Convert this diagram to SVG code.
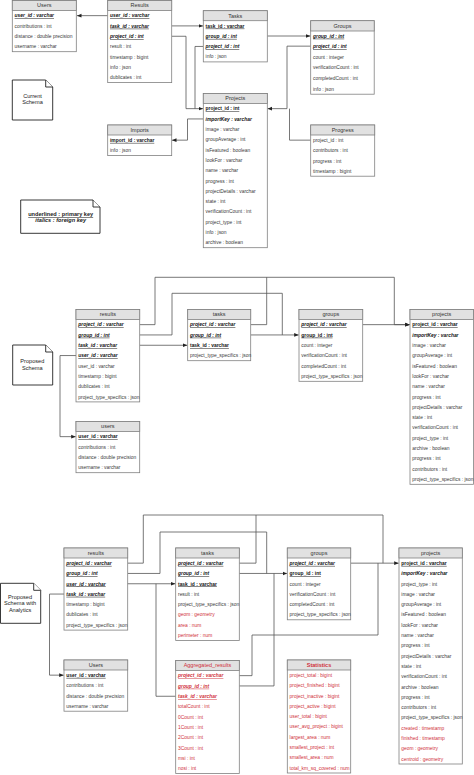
<svg xmlns="http://www.w3.org/2000/svg" width="474" height="775" viewBox="0 0 474 775">
<style>
.bd{fill:#fff;stroke:#808080;stroke-width:0.8}
.hd{fill:#e1e1e1;stroke:#808080;stroke-width:0.8}
text{font-family:"Liberation Sans",Arial,Helvetica,sans-serif}
.ht{font-size:5.5px;fill:#333;text-anchor:middle}
.r{font-size:4.9px;fill:#3a3a3a}
.k{font-weight:bold;text-decoration:underline;fill:#111}
.f{font-weight:bold;font-style:italic;fill:#111}
.fk{font-weight:bold;font-style:italic;text-decoration:underline;fill:#111}
.red{fill:#d0303a}
.cn{fill:none;stroke:#555;stroke-width:0.8}
.note{fill:#fff;stroke:#222;stroke-width:0.9}
.nt{font-size:5.6px;fill:#222;text-anchor:middle}
</style>
<defs>
<marker id="ar" markerUnits="userSpaceOnUse" markerWidth="5" markerHeight="5" refX="4.5" refY="2.5" orient="auto">
<path d="M0,0.6 L4.5,2.5 L0,4.4 Z" fill="#222"/>
</marker>
</defs>

<g id="connectors">
<path class="cn" d="M107.7 15.65 H77" marker-end="url(#ar)"/>
<path class="cn" d="M171.7 25.9 H203" marker-end="url(#ar)"/>
<path class="cn" d="M171.7 36.25 H186 V108.65 H203" marker-end="url(#ar)"/>
<path class="cn" d="M203.3 46.45 H195 V108.65"/>
<path class="cn" d="M267.3 36 H310.4" marker-end="url(#ar)"/>
<path class="cn" d="M310.7 46.15 H287 V108.65 H267.6" marker-end="url(#ar)"/>
<path class="cn" d="M310.7 140.15 H289.5 V108.65"/>
<path class="cn" d="M203.3 118.95 H187.5 V140.15 H172" marker-end="url(#ar)"/>

<path class="cn" d="M139.7 324.65 H155 V277.3 H394.3 V324.65 H409.7" marker-end="url(#ar)"/>
<path class="cn" d="M139.7 334.95 H172 V293.3 H282.3 V334.95"/>
<path class="cn" d="M139.7 345.25 H187.4" marker-end="url(#ar)"/>
<path class="cn" d="M76 355.55 H60 V436.65 H75.7" marker-end="url(#ar)"/>
<path class="cn" d="M250.7 324.65 H266.7 V277.3"/>
<path class="cn" d="M250.7 334.95 H298.7" marker-end="url(#ar)"/>
<path class="cn" d="M362.7 324.65 H409.7" marker-end="url(#ar)"/>

<path class="cn" d="M127.7 563.15 H143.3 V515 H383 V563.15"/>
<path class="cn" d="M127.7 573.45 H160 V532 H266.7 V573.45"/>
<path class="cn" d="M97 583.75 H175.4" marker-end="url(#ar)"/>
<path class="cn" d="M97 583.75 V594.05 H49.5 V675.15 H63.7" marker-end="url(#ar)"/>
<path class="cn" d="M175.7 696.25 H156 V583.75"/>
<path class="cn" d="M239.3 563.15 H256 V515"/>
<path class="cn" d="M239.3 573.45 H287" marker-end="url(#ar)"/>
<path class="cn" d="M350.7 563.15 H398.7" marker-end="url(#ar)"/>
<path class="cn" d="M239.3 675.65 H252 V635 H378 V563.15"/>
<path class="cn" d="M239.3 685.95 H274 V573.45"/>
</g>

<!-- Current schema -->
<g id="cur-users" transform="translate(12.3,0.5)">
<rect class="bd" width="64" height="51.2"/><rect class="hd" width="64" height="10"/>
<text class="ht" x="32" y="6.9">Users</text>
<text class="r fk" x="2.3" y="16.9">user_id : varchar</text>
<text class="r" x="2.3" y="27.2">contributions : int</text>
<text class="r" x="2.3" y="37.5">distance : double precision</text>
<text class="r" x="2.3" y="47.8">username : varchar</text>
</g>
<g id="cur-results" transform="translate(107.7,0.5)">
<rect class="bd" width="64" height="82.1"/><rect class="hd" width="64" height="10"/>
<text class="ht" x="32" y="6.9">Results</text>
<text class="r fk" x="2.3" y="16.9">user_id : varchar</text>
<text class="r fk" x="2.3" y="27.2">task_id : varchar</text>
<text class="r fk" x="2.3" y="37.5">project_id : int</text>
<text class="r" x="2.3" y="47.8">result : int</text>
<text class="r" x="2.3" y="58.1">timestamp : bigint</text>
<text class="r" x="2.3" y="68.4">info : json</text>
<text class="r" x="2.3" y="78.7">dublicates : int</text>
</g>
<g id="cur-tasks" transform="translate(203.3,10.7)">
<rect class="bd" width="64" height="51.2"/><rect class="hd" width="64" height="10"/>
<text class="ht" x="32" y="6.9">Tasks</text>
<text class="r k" x="2.3" y="16.9">task_id : varchar</text>
<text class="r fk" x="2.3" y="27.2">group_id : int</text>
<text class="r fk" x="2.3" y="37.5">project_id : int</text>
<text class="r" x="2.3" y="47.8">info : json</text>
</g>
<g id="cur-groups" transform="translate(310.7,20.7)">
<rect class="bd" width="63.5" height="73.5"/><rect class="hd" width="63.5" height="10.3"/>
<text class="ht" x="31.75" y="7.1">Groups</text>
<text class="r fk" x="2.3" y="17">group_id : int</text>
<text class="r fk" x="2.3" y="27.6">project_id : int</text>
<text class="r" x="2.3" y="38.2">count : integer</text>
<text class="r" x="2.3" y="48.8">verificationCount : int</text>
<text class="r" x="2.3" y="59.4">completedCount : int</text>
<text class="r" x="2.3" y="70">info : json</text>
</g>
<g id="cur-projects" transform="translate(203.3,93.5)">
<rect class="bd" width="64" height="154.2"/><rect class="hd" width="64" height="10"/>
<text class="ht" x="32" y="6.9">Projects</text>
<text class="r k" x="2.3" y="16.9">project_id : int</text>
<text class="r f" x="2.3" y="27.2">importKey : varchar</text>
<text class="r" x="2.3" y="37.5">image : varchar</text>
<text class="r" x="2.3" y="47.8">groupAverage : int</text>
<text class="r" x="2.3" y="58.1">isFeatured : boolean</text>
<text class="r" x="2.3" y="68.4">lookFor : varchar</text>
<text class="r" x="2.3" y="78.7">name : varchar</text>
<text class="r" x="2.3" y="89">progress : int</text>
<text class="r" x="2.3" y="99.3">projectDetails : varchar</text>
<text class="r" x="2.3" y="109.6">state : int</text>
<text class="r" x="2.3" y="119.9">verificationCount : int</text>
<text class="r" x="2.3" y="130.2">project_type : int</text>
<text class="r" x="2.3" y="140.5">info : json</text>
<text class="r" x="2.3" y="150.8">archive : boolean</text>
</g>
<g id="cur-imports" transform="translate(107.7,125)">
<rect class="bd" width="64" height="30.6"/><rect class="hd" width="64" height="10"/>
<text class="ht" x="32" y="6.9">Imports</text>
<text class="r k" x="2.3" y="16.9">import_id : varchar</text>
<text class="r" x="2.3" y="27.2">info : json</text>
</g>
<g id="cur-progress" transform="translate(310.7,125)">
<rect class="bd" width="64" height="51.2"/><rect class="hd" width="64" height="10"/>
<text class="ht" x="32" y="6.9">Progress</text>
<text class="r" x="2.3" y="16.9">project_id : int</text>
<text class="r" x="2.3" y="27.2">contributors : int</text>
<text class="r" x="2.3" y="37.5">progress : int</text>
<text class="r" x="2.3" y="47.8">timestamp : bigint</text>
</g>
<g id="note-current" transform="translate(12.3,80)">
<path class="note" d="M0,0 H33.4 L40.4,7 V40 H0 Z"/><path class="note" d="M33.4,0 V7 H40.4"/>
<text class="nt" x="20.2" y="17.7">Current</text>
<text class="nt" x="20.2" y="24.3">Schema</text>
</g>
<g id="note-legend" transform="translate(20.7,200)">
<path class="note" d="M0,0 H72.3 L79.3,7 V33.3 H0 Z"/><path class="note" d="M72.3,0 V7 H79.3"/>
<text class="nt" x="40" y="16" font-weight="bold" text-decoration="underline">underlined : primary key</text>
<text class="nt" x="40" y="22" font-weight="bold" font-style="italic">italics : foreign key</text>
</g>

<!-- Proposed schema -->
<g id="prop-results" transform="translate(76,309.5)">
<rect class="bd" width="63.7" height="92.4"/><rect class="hd" width="63.7" height="10"/>
<text class="ht" x="31.85" y="6.9">results</text>
<text class="r fk" x="2.3" y="16.9">project_id : varchar</text>
<text class="r fk" x="2.3" y="27.2">group_id : int</text>
<text class="r fk" x="2.3" y="37.5">task_id : varchar</text>
<text class="r fk" x="2.3" y="47.8">user_id : varchar</text>
<text class="r" x="2.3" y="58.1">user_id : varchar</text>
<text class="r" x="2.3" y="68.4">timestamp : bigint</text>
<text class="r" x="2.3" y="78.7">dublicates : int</text>
<text class="r" x="2.3" y="89">project_type_specifics : json</text>
</g>
<g id="prop-tasks" transform="translate(187.7,309.5)">
<rect class="bd" width="63" height="51.2"/><rect class="hd" width="63" height="10"/>
<text class="ht" x="31.5" y="6.9">tasks</text>
<text class="r fk" x="2.3" y="16.9">project_id : varchar</text>
<text class="r fk" x="2.3" y="27.2">group_id : int</text>
<text class="r k" x="2.3" y="37.5">task_id : varchar</text>
<text class="r" x="2.3" y="47.8">project_type_specifics : json</text>
</g>
<g id="prop-groups" transform="translate(299,309.5)">
<rect class="bd" width="63.7" height="71.8"/><rect class="hd" width="63.7" height="10"/>
<text class="ht" x="31.85" y="6.9">groups</text>
<text class="r fk" x="2.3" y="16.9">project_id : varchar</text>
<text class="r k" x="2.3" y="27.2">group_id : int</text>
<text class="r" x="2.3" y="37.5">count : integer</text>
<text class="r" x="2.3" y="47.8">verificationCount : int</text>
<text class="r" x="2.3" y="58.1">completedCount : int</text>
<text class="r" x="2.3" y="68.4">project_type_specifics : json</text>
</g>
<g id="prop-projects" transform="translate(410,309.5)">
<rect class="bd" width="63.5" height="174.8"/><rect class="hd" width="63.5" height="10"/>
<text class="ht" x="31.75" y="6.9">projects</text>
<text class="r k" x="2.3" y="16.9">project_id : varchar</text>
<text class="r f" x="2.3" y="27.2">importKey : varchar</text>
<text class="r" x="2.3" y="37.5">image : varchar</text>
<text class="r" x="2.3" y="47.8">groupAverage : int</text>
<text class="r" x="2.3" y="58.1">isFeatured : boolean</text>
<text class="r" x="2.3" y="68.4">lookFor : varchar</text>
<text class="r" x="2.3" y="78.7">name : varchar</text>
<text class="r" x="2.3" y="89">progress : int</text>
<text class="r" x="2.3" y="99.3">projectDetails : varchar</text>
<text class="r" x="2.3" y="109.6">state : int</text>
<text class="r" x="2.3" y="119.9">verificationCount : int</text>
<text class="r" x="2.3" y="130.2">project_type : int</text>
<text class="r" x="2.3" y="140.5">archive : boolean</text>
<text class="r" x="2.3" y="150.8">progress : int</text>
<text class="r" x="2.3" y="161.1">contributors : int</text>
<text class="r" x="2.3" y="171.4">project_type_specifics : json</text>
</g>
<g id="prop-users" transform="translate(76,421.5)">
<rect class="bd" width="63.7" height="51.2"/><rect class="hd" width="63.7" height="10"/>
<text class="ht" x="31.85" y="6.9">users</text>
<text class="r k" x="2.3" y="16.9">user_id : varchar</text>
<text class="r" x="2.3" y="27.2">contributions : int</text>
<text class="r" x="2.3" y="37.5">distance : double precision</text>
<text class="r" x="2.3" y="47.8">username : varchar</text>
</g>
<g id="note-proposed" transform="translate(12.7,345)">
<path class="note" d="M0,0 H33 L40,7 V40 H0 Z"/><path class="note" d="M33,0 V7 H40"/>
<text class="nt" x="19.6" y="18">Proposed</text>
<text class="nt" x="19.6" y="25.3">Schema</text>
</g>

<!-- Proposed schema with analytics -->
<g id="ana-results" transform="translate(64,548)">
<rect class="bd" width="63.7" height="82.1"/><rect class="hd" width="63.7" height="10"/>
<text class="ht" x="31.85" y="6.9">results</text>
<text class="r fk" x="2.3" y="16.9">project_id : varchar</text>
<text class="r fk" x="2.3" y="27.2">group_id : int</text>
<text class="r fk" x="2.3" y="37.5">user_id : varchar</text>
<text class="r fk" x="2.3" y="47.8">task_id : varchar</text>
<text class="r" x="2.3" y="58.1">timestamp : bigint</text>
<text class="r" x="2.3" y="68.4">dublicates : int</text>
<text class="r" x="2.3" y="78.7">project_type_specifics : json</text>
</g>
<g id="ana-tasks" transform="translate(175.7,548)">
<rect class="bd" width="63.6" height="92.4"/><rect class="hd" width="63.6" height="10"/>
<text class="ht" x="31.8" y="6.9">tasks</text>
<text class="r fk" x="2.3" y="16.9">project_id : varchar</text>
<text class="r fk" x="2.3" y="27.2">group_id : int</text>
<text class="r k" x="2.3" y="37.5">task_id : varchar</text>
<text class="r" x="2.3" y="47.8">result : int</text>
<text class="r" x="2.3" y="58.1">project_type_specifics : json</text>
<text class="r red" x="2.3" y="68.4">geom : geometry</text>
<text class="r red" x="2.3" y="78.7">area : num</text>
<text class="r red" x="2.3" y="89">perimeter : num</text>
</g>
<g id="ana-groups" transform="translate(287.3,548)">
<rect class="bd" width="63.4" height="71.8"/><rect class="hd" width="63.4" height="10"/>
<text class="ht" x="31.7" y="6.9">groups</text>
<text class="r fk" x="2.3" y="16.9">project_id : varchar</text>
<text class="r k" x="2.3" y="27.2">group_id : int</text>
<text class="r" x="2.3" y="37.5">count : integer</text>
<text class="r" x="2.3" y="47.8">verificationCount : int</text>
<text class="r" x="2.3" y="58.1">completedCount : int</text>
<text class="r" x="2.3" y="68.4">project_type_specifics : json</text>
</g>
<g id="ana-projects" transform="translate(399,548)">
<rect class="bd" width="63.3" height="216"/><rect class="hd" width="63.3" height="10"/>
<text class="ht" x="31.65" y="6.9">projects</text>
<text class="r k" x="2.3" y="16.9">project_id : varchar</text>
<text class="r f" x="2.3" y="27.2">importKey : varchar</text>
<text class="r" x="2.3" y="37.5">project_type : int</text>
<text class="r" x="2.3" y="47.8">image : varchar</text>
<text class="r" x="2.3" y="58.1">groupAverage : int</text>
<text class="r" x="2.3" y="68.4">isFeatured : boolean</text>
<text class="r" x="2.3" y="78.7">lookFor : varchar</text>
<text class="r" x="2.3" y="89">name : varchar</text>
<text class="r" x="2.3" y="99.3">progress : int</text>
<text class="r" x="2.3" y="109.6">projectDetails : varchar</text>
<text class="r" x="2.3" y="119.9">state : int</text>
<text class="r" x="2.3" y="130.2">verificationCount : int</text>
<text class="r" x="2.3" y="140.5">archive : boolean</text>
<text class="r" x="2.3" y="150.8">progress : int</text>
<text class="r" x="2.3" y="161.1">contributors : int</text>
<text class="r" x="2.3" y="171.4">project_type_specifics : json</text>
<text class="r red" x="2.3" y="181.7">created : timestamp</text>
<text class="r red" x="2.3" y="192">finished : timestamp</text>
<text class="r red" x="2.3" y="202.3">geom : geometry</text>
<text class="r red" x="2.3" y="212.6">centroid : geometry</text>
</g>
<g id="ana-users" transform="translate(64,660)">
<rect class="bd" width="63.7" height="51.2"/><rect class="hd" width="63.7" height="10"/>
<text class="ht" x="31.85" y="6.9">Users</text>
<text class="r k" x="2.3" y="16.9">user_id : varchar</text>
<text class="r" x="2.3" y="27.2">contributions : int</text>
<text class="r" x="2.3" y="37.5">distance : double precision</text>
<text class="r" x="2.3" y="47.8">username : varchar</text>
</g>
<g id="ana-aggregated" transform="translate(175.7,660.5)">
<rect class="bd" width="63.6" height="113"/><rect class="hd" width="63.6" height="10"/>
<text class="ht red" x="31.8" y="6.9">Aggregated_results</text>
<text class="r fk red" x="2.3" y="16.9">project_id : varchar</text>
<text class="r fk red" x="2.3" y="27.2">group_id : int</text>
<text class="r fk red" x="2.3" y="37.5">task_id : varchar</text>
<text class="r red" x="2.3" y="47.8">totalCount : int</text>
<text class="r red" x="2.3" y="58.1">0Count : int</text>
<text class="r red" x="2.3" y="68.4">1Count : int</text>
<text class="r red" x="2.3" y="78.7">2Count : int</text>
<text class="r red" x="2.3" y="89">3Count : int</text>
<text class="r red" x="2.3" y="99.3">msi : int</text>
<text class="r red" x="2.3" y="109.6">nosi : int</text>
</g>
<g id="ana-statistics" transform="translate(287.3,660)">
<rect class="bd" width="63.4" height="113"/><rect class="hd" width="63.4" height="10"/>
<text class="ht red" x="31.7" y="6.9" font-weight="bold">Statistics</text>
<text class="r red" x="2.3" y="16.9">project_total : bigint</text>
<text class="r red" x="2.3" y="27.2">project_finished : bigint</text>
<text class="r red" x="2.3" y="37.5">project_inactive : bigint</text>
<text class="r red" x="2.3" y="47.8">project_active : bigint</text>
<text class="r red" x="2.3" y="58.1">user_total : bigint</text>
<text class="r red" x="2.3" y="68.4">user_avg_project : bigint</text>
<text class="r red" x="2.3" y="78.7">largest_area : num</text>
<text class="r red" x="2.3" y="89">smallest_project : int</text>
<text class="r red" x="2.3" y="99.3">smallest_area : num</text>
<text class="r red" x="2.3" y="109.6">total_km_sq_covered : num</text>
</g>
<g id="note-analytics" transform="translate(0.5,583.3)">
<path class="note" d="M0,0 H33.2 L40.2,7 V40 H0 Z"/><path class="note" d="M33.2,0 V7 H40.2"/>
<text class="nt" x="19.6" y="15.4">Proposed</text>
<text class="nt" x="19.6" y="22">Schema with</text>
<text class="nt" x="19.6" y="28.7">Analytics</text>
</g>
</svg>
